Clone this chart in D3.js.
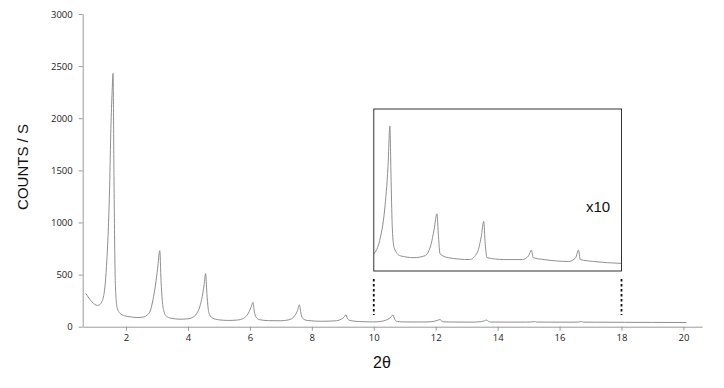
<!DOCTYPE html>
<html>
<head>
<meta charset="utf-8">
<script src="https://cdn.jsdelivr.net/npm/d3@7"></script>
<style>
  body { margin: 0; background: #fff; }
  .axis path, .axis line { stroke: #9a9a9a; }
  .axis text { font-family: "Open Sans", sans-serif; font-size: 9.5px; fill: #222; }
</style>
</head>
<body>
<div id="chart"></div>
<script>
// diffraction pattern
const twoTheta = [
  0.70, 0.80, 0.90, 1.00, 1.07, 1.15, 1.22, 1.28, 1.33, 1.38, 1.43, 1.47, 1.51, 1.55, 1.58,
  1.61, 1.64, 1.68, 1.72, 1.80, 1.95, 2.15, 2.35, 2.55, 2.68, 2.78, 2.87, 2.95, 3.02, 3.09,
  3.13, 3.17, 3.22, 3.30, 3.45, 3.74, 4.00, 4.15, 4.28, 4.38, 4.46, 4.52, 4.57, 4.61, 4.65,
  4.70, 4.80, 5.00, 5.30, 5.60, 5.80, 5.93, 6.03, 6.10, 6.14, 6.20, 6.30, 6.60, 7.00, 7.25,
  7.42, 7.53, 7.60, 7.64, 7.70, 7.85, 8.30, 8.75, 8.95, 9.05, 9.10, 9.14, 9.22, 9.50, 10.00,
  10.10, 10.29, 10.45, 10.56, 10.62, 10.66, 10.70, 10.76, 10.95, 11.40, 11.75, 11.95, 12.05, 12.14,
  12.19, 12.24, 12.50, 13.20, 13.45, 13.57, 13.65, 13.70, 13.76, 14.30, 14.90, 15.10, 15.19, 15.25, 15.60,
  16.40, 16.62, 16.71, 16.77, 17.20, 18.10, 19.00, 20.10
];
const counts = [
  320, 275, 238, 212, 204, 212, 240, 300, 420, 640, 960, 1350, 1900, 2250, 2430,
  1450, 620, 260, 175, 130, 105, 94, 88, 92, 112, 150, 260, 400, 560, 730,
  440, 250, 150, 102, 82, 72, 76, 90, 125, 190, 290, 400, 510, 320, 180,
  115, 82, 66, 60, 64, 82, 120, 180, 233, 150, 92, 68, 58, 57, 66,
  95, 150, 210, 140, 82, 60, 52, 56, 72, 95, 115, 85, 60, 50, 46,
  47, 54, 70, 93, 114, 85, 60, 50, 46, 45, 46, 52, 60, 68,
  56, 47, 45, 44, 48, 56, 64, 52, 45, 44, 44, 46, 49, 45, 44,
  43, 45, 49, 44, 43, 42, 41, 40
];
const xTicks = [2, 4, 6, 8, 10, 12, 14, 16, 18, 20];
const yTicks = [0, 500, 1000, 1500, 2000, 2500, 3000];
const zoomRange = [10, 18];
const zoomFactor = 10;

const data = twoTheta.map((t, i) => ({ x: t, y: counts[i] }));

const width = 724;
const height = 388;

const svg = d3.select("#chart")
  .append("svg")
  .attr("width", width)
  .attr("height", height);

const x = d3.scaleLinear().domain([0.6, 20.6]).range([82.7, 702]);
const y = d3.scaleLinear().domain([0, 3000]).range([326.7, 14]);

const line = d3.line()
  .x((d) => x(d.x))
  .y((d) => y(d.y))
  .curve(d3.curveMonotoneX);

svg.append("path")
  .datum(data)
  .attr("fill", "none")
  .attr("stroke", "#8f8f8f")
  .attr("stroke-width", 1)
  .attr("d", line);

svg.append("g")
  .attr("class", "axis")
  .attr("transform", `translate(0,${y(0)})`)
  .call(d3.axisBottom(x).tickValues(xTicks).tickFormat(d3.format("d"))
    .tickSize(4).tickPadding(4).tickSizeOuter(0));

svg.append("g")
  .attr("class", "axis")
  .attr("transform", `translate(${x(0.6)},0)`)
  .call(d3.axisLeft(y).tickValues(yTicks).tickFormat(d3.format("d"))
    .tickSize(4).tickPadding(6).tickSizeOuter(0));

// axis titles
svg.append("text")
  .attr("transform", `translate(28,167) rotate(-90)`)
  .attr("text-anchor", "middle")
  .attr("font-family", "Liberation Sans, Arial, sans-serif")
  .attr("font-size", 15)
  .attr("fill", "#111")
  .text("COUNTS / S");

svg.append("text")
  .attr("x", 382)
  .attr("y", 368)
  .attr("text-anchor", "middle")
  .attr("font-family", "Liberation Sans, Arial, sans-serif")
  .attr("font-size", 16)
  .attr("fill", "#111")
  .text("2θ");

// dashed markers for the zoomed range
svg.selectAll(".marker")
  .data(zoomRange)
  .enter()
  .append("line")
  .attr("class", "marker")
  .attr("x1", (d) => x(d))
  .attr("x2", (d) => x(d))
  .attr("y1", 279)
  .attr("y2", 315)
  .attr("stroke", "#111")
  .attr("stroke-width", 1.8)
  .attr("stroke-dasharray", "2.5,2.5");

// inset, same data x10
const box = { left: x(zoomRange[0]), right: x(zoomRange[1]), top: 109, bottom: 271 };

const xIn = d3.scaleLinear().domain([10.1, 18.1]).range([box.left, box.right]);
const yIn = d3.scaleLinear().domain([380, 1230]).range([box.bottom, box.top]);

svg.append("clipPath")
  .attr("id", "inset-clip")
  .append("rect")
  .attr("x", box.left)
  .attr("y", box.top)
  .attr("width", box.right - box.left)
  .attr("height", box.bottom - box.top);

const insetLine = d3.line()
  .x((d) => xIn(d.x))
  .y((d) => yIn(d.y * zoomFactor))
  .curve(d3.curveMonotoneX);

svg.append("path")
  .datum(data.filter((d) => d.x >= 9.5 && d.x <= 18.5))
  .attr("clip-path", "url(#inset-clip)")
  .attr("fill", "none")
  .attr("stroke", "#8f8f8f")
  .attr("stroke-width", 1)
  .attr("d", insetLine);

svg.append("rect")
  .attr("x", box.left)
  .attr("y", box.top)
  .attr("width", box.right - box.left)
  .attr("height", box.bottom - box.top)
  .attr("fill", "none")
  .attr("stroke", "#333")
  .attr("stroke-width", 1);

svg.append("text")
  .attr("x", 586)
  .attr("y", 212)
  .attr("font-family", "Liberation Sans, Arial, sans-serif")
  .attr("font-size", 15)
  .attr("fill", "#111")
  .text("x" + zoomFactor);
</script>
</body>
</html>
